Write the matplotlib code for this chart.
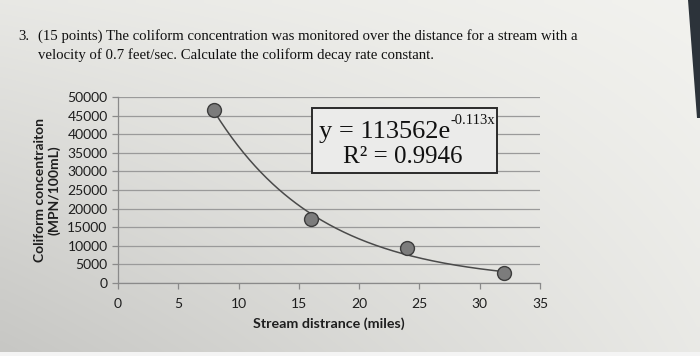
import numpy as np
import matplotlib
matplotlib.use("Agg")
import matplotlib.pyplot as plt
from matplotlib.patches import Rectangle, Polygon

# ---- data ----
distance_miles = [8, 16, 24, 32]
coliform = [46500, 17100, 9500, 2800]
fit_a = 113562
fit_k = -0.113
r_squared = "0.9946"
x_ticks = [0, 5, 10, 15, 20, 25, 30, 35]
y_ticks = [0, 5000, 10000, 15000, 20000, 25000, 30000, 35000, 40000, 45000, 50000]
question_line1 = "(15 points) The coliform concentration was monitored over the distance for a stream with a"
question_line2 = "velocity of 0.7 feet/sec. Calculate the coliform decay rate constant."
x_label = "Stream distrance (miles)"
y_label = "Coliform concentraiton\n(MPN/100mL)"

W, H = 700, 356
fig = plt.figure(figsize=(7, 3.56), dpi=100)

# paper background gradient
bg = fig.add_axes([0, 0, 1, 1])
bg.set_axis_off()
yy, xx = np.mgrid[0:1:60j, 0:1:120j]
tl, tr, bl, br = 0.91, 0.95, 0.78, 0.915
g = (tl * (1 - xx) * (1 - yy) + tr * xx * (1 - yy) + bl * (1 - xx) * yy + br * xx * yy)
img = np.dstack([g, g, g * 0.985])
bg.imshow(img, extent=[0, W, H, 0], aspect='auto', interpolation='bilinear')
bg.add_patch(Polygon([[688, 0], [700, 0], [700, 118], [697, 118]], closed=True,
                     facecolor='#2c333a', edgecolor='none'))
bg.add_patch(Rectangle((0, 352), W, 4, facecolor='#f4f4f4', edgecolor='none'))
bg.set_xlim(0, W)
bg.set_ylim(H, 0)

# question text
serif = 'Liberation Serif'
qkw = dict(fontsize=10.6, family=serif, color='#111111', va='center')
fig.text(18 / W, 1 - 36 / H, "3.", **qkw)
fig.text(38 / W, 1 - 36 / H, question_line1, **qkw)
fig.text(38 / W, 1 - 55 / H, question_line2, **qkw)

# chart
ax = fig.add_axes([118 / W, 1 - 283 / H, 422 / W, 186 / H])
ax.patch.set_alpha(0)
xs = np.linspace(min(distance_miles), max(distance_miles), 200)
ax.plot(xs, fit_a * np.exp(fit_k * xs), color='#4a4a4a', lw=1.1, zorder=3)
ax.plot(distance_miles, coliform, 'o', ms=10, mfc='#7c7c7c', mec='#3c3c3c', mew=1.0, zorder=4)
ax.set_xlim(0, 35)
ax.set_ylim(0, 50000)
ax.set_xticks(x_ticks)
ax.set_yticks(y_ticks)
ax.set_xticklabels([str(t) for t in x_ticks])
ax.set_yticklabels([str(t) for t in y_ticks])
ax.yaxis.grid(True, color='#9a9a9a', lw=0.9)
ax.set_axisbelow(True)
for s in ['top', 'right']:
    ax.spines[s].set_visible(False)
for s in ['left', 'bottom']:
    ax.spines[s].set_color('#8a8a8a')
    ax.spines[s].set_linewidth(0.9)
ax.tick_params(axis='both', colors='#8a8a8a', length=4, width=0.9, labelcolor='#1e1e1e',
               labelsize=10)
ax.tick_params(axis='x', pad=7)
for lab in ax.get_xticklabels() + ax.get_yticklabels():
    lab.set_family('Lato')
ax.set_xlabel(x_label, family='Lato', fontweight='bold', fontsize=10.3, color='#1e1e1e', labelpad=5)
ax.set_ylabel(y_label, family='Lato', fontweight='bold', fontsize=10, color='#1e1e1e',
              labelpad=5, linespacing=1.15)

# equation box
fig.add_artist(Rectangle((312 / W, 1 - 173 / H), 185 / W, 65 / H, transform=fig.transFigure,
                         facecolor='#ebebea', edgecolor='#2a2a2a', lw=1.4, zorder=5))
ekw = dict(family=serif, color='#111111', zorder=6)
fig.text(450 / W, 1 - 132 / H, "y = %de" % fit_a, fontsize=19, ha='right', va='center', **ekw)
fig.text(451 / W, 1 - 121 / H, "%.3fx" % fit_k, fontsize=10.5, ha='left', va='center', **ekw)
fig.text(403 / W, 1 - 157 / H, "R\u00b2 = " + r_squared, fontsize=18,
         ha='center', va='center', **ekw)

fig.savefig("out.png", dpi=100)
